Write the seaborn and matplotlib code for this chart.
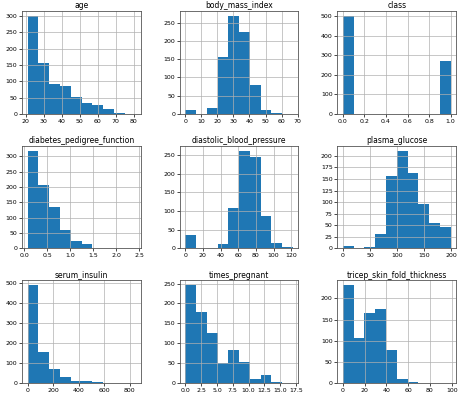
import numpy as np
import pandas as pd
import matplotlib
matplotlib.use("Agg")
import matplotlib.pyplot as plt
from matplotlib.ticker import MaxNLocator
import seaborn as sns

# 10-bin counts per column (pandas df.hist style)
columns = ["age", "body_mass_index", "class",
           "diabetes_pedigree_function", "diastolic_blood_pressure", "plasma_glucose",
           "serum_insulin", "times_pregnant", "tricep_skin_fold_thickness"]

age_counts = [300, 157, 92, 86, 52, 34, 26, 16, 4, 1]
bmi_counts = [11, 0, 15, 156, 268, 224, 78, 12, 3, 1]
class_counts = [500, 0, 0, 0, 0, 0, 0, 0, 0, 268]
pedigree_counts = [318, 206, 136, 59, 25, 16, 3, 2, 1, 2]
pressure_counts = [35, 1, 2, 13, 107, 261, 243, 87, 14, 5]
glucose_counts = [5, 0, 4, 32, 156, 211, 163, 95, 56, 46]
insulin_counts = [487, 155, 70, 30, 8, 9, 5, 1, 2, 1]
pregnant_counts = [246, 178, 125, 50, 83, 52, 11, 19, 3, 1]
skin_counts = [231, 107, 165, 175, 78, 9, 2, 0, 0, 1]

# data range (min, max) of each column
ranges = [(21, 81), (0, 67.1), (0, 1),
          (0.078, 2.42), (0, 122), (0, 199),
          (0, 846), (0, 17), (0, 99)]

counts = [age_counts, bmi_counts, class_counts,
          pedigree_counts, pressure_counts, glucose_counts,
          insulin_counts, pregnant_counts, skin_counts]

fig, axes = plt.subplots(3, 3, figsize=(4.74, 3.99), dpi=100)
fig.subplots_adjust(left=0.047, right=0.962, top=0.972, bottom=0.04,
                    wspace=0.33, hspace=0.31)

for ax, name, cnt, (lo, hi) in zip(axes.flat, columns, counts, ranges):
    edges = np.linspace(lo, hi, len(cnt) + 1)
    df = pd.DataFrame({"value": (edges[:-1] + edges[1:]) / 2, "count": cnt})
    sns.histplot(data=df, x="value", weights="count", bins=list(edges), ax=ax,
                 color="#1f77b4", alpha=1, linewidth=0)
    ax.set_title(name, fontsize=5.5, pad=2)
    ax.set_xlabel("")
    ax.set_ylabel("")
    ax.xaxis.set_major_locator(MaxNLocator(nbins=8, steps=[1, 2, 2.5, 5, 10]))
    ax.yaxis.set_major_locator(MaxNLocator(nbins=9, steps=[1, 2, 2.5, 5, 10]))
    ax.grid(True, color="#b0b0b0", linewidth=0.5)
    ax.tick_params(labelsize=4.5, length=2, width=0.5, pad=1.5)
    for sp in ax.spines.values():
        sp.set_linewidth(0.6)
        sp.set_color("#555555")

plt.savefig("out.png", dpi=100)
plt.close()
